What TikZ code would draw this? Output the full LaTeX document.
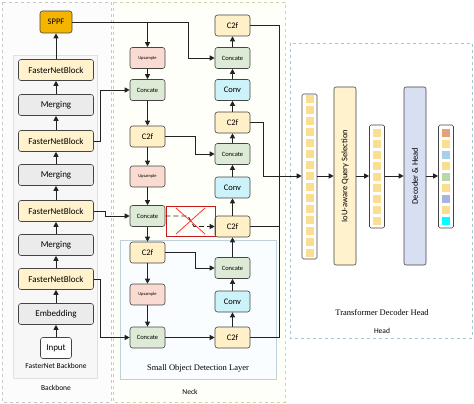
\documentclass[tikz,border=0pt]{standalone}
\usepackage{fontspec}
\setmainfont{Carlito}
\newfontfamily\serifx{Liberation Serif}
\usetikzlibrary{arrows.meta}
\definecolor{sppfc}{HTML}{F5B400}
\definecolor{fnbc}{HTML}{FFF2CC}
\definecolor{mrgc}{HTML}{EBEBEB}
\definecolor{upsc}{HTML}{FADBD2}
\definecolor{cctc}{HTML}{DDEBD6}
\definecolor{ctfc}{HTML}{FFF0C8}
\definecolor{cnvc}{HTML}{CCF2FA}
\definecolor{sqc}{HTML}{F9DF8F}
\definecolor{iouc}{HTML}{FFF2CC}
\definecolor{decc}{HTML}{D9DFF2}
\definecolor{linec}{HTML}{222222}
\definecolor{bordc}{HTML}{444444}
\tikzset{
  blk/.style={draw=bordc, rounded corners=2.5pt, line width=0.6pt, inner sep=0pt, minimum height=21pt},
  bb/.style={blk, minimum width=75pt, font=\fontsize{9}{10}\selectfont},
  nk/.style={blk, minimum width=35pt},
  ups/.style={nk, fill=upsc, font=\fontsize{4.5}{5}\selectfont},
  cct/.style={nk, fill=cctc, font=\fontsize{6.5}{7}\selectfont},
  ctf/.style={nk, fill=ctfc, font=\fontsize{8.5}{9}\selectfont},
  cnv/.style={nk, fill=cnvc, font=\fontsize{8.5}{9}\selectfont},
  col/.style={draw=bordc, rounded corners=1.5pt, line width=0.6pt, fill=white, minimum width=15pt, inner sep=0pt},
  arr/.style={draw=linec, line width=0.9pt, -{Triangle[length=5pt,width=5pt]}},
  ln/.style={draw=linec, line width=0.9pt},
}
\begin{document}
\begin{tikzpicture}[x=1pt,y=-1pt]
\useasboundingbox (0,0) rectangle (474,404);
% outer frames
\draw[draw=black!22, dashed, line width=0.8pt, fill=black!1] (2,2) rectangle (111,402);
\draw[draw=black!12, line width=0.6pt, fill=black!3] (13,55) rectangle (97,378);
\draw[draw=green!30!yellow!40!gray!50, dashed, line width=0.8pt, fill=yellow!2] (113,2) rectangle (285,402);
\draw[draw=cyan!30!gray!45, line width=0.6pt, fill=cyan!2] (120,240) rectangle (276,379);
\draw[draw=cyan!40!gray!60, dashed, line width=0.8pt] (290,43) rectangle (472,338);

\node at (56,366) {\fontsize{7.5}{8}\selectfont FasterNet Backbone};
\node at (56,388) {\fontsize{7.5}{8}\selectfont Backbone};
\node at (198,368) {\serifx\fontsize{8.5}{9}\selectfont Small Object Detection Layer};
\node at (190,392) {\fontsize{7.5}{8}\selectfont Neck};
\node at (382,313) {\serifx\fontsize{8.5}{9}\selectfont Transformer Decoder Head};
\node at (382,331) {\fontsize{7.5}{8}\selectfont Head};

% backbone
\node[blk, fill=sppfc, minimum width=32pt, minimum height=22pt, font=\fontsize{8.5}{9}\selectfont] (sppf) at (56,22) {SPPF};
\node[bb, fill=fnbc] (f4) at (56,70) {FasterNetBlock};
\node[bb, fill=mrgc] (m3) at (56,105) {Merging};
\node[bb, fill=fnbc] (f3) at (56,141) {FasterNetBlock};
\node[bb, fill=mrgc] (m2) at (56,175) {Merging};
\node[bb, fill=fnbc] (f2) at (56,211) {FasterNetBlock};
\node[bb, fill=mrgc] (m1) at (56,245) {Merging};
\node[bb, fill=fnbc] (f1) at (56,279) {FasterNetBlock};
\node[bb, fill=mrgc] (emb) at (56,314) {Embedding};
\node[blk, fill=white, minimum width=31pt, font=\fontsize{9}{10}\selectfont] (inp) at (56,348) {Input};
\draw[arr] (inp) -- (emb);
\draw[arr] (emb) -- (f1);
\draw[arr] (f1) -- (m1);
\draw[arr] (m1) -- (f2);
\draw[arr] (f2) -- (m2);
\draw[arr] (m2) -- (f3);
\draw[arr] (f3) -- (m3);
\draw[arr] (m3) -- (f4);
\draw[arr] (f4) -- (sppf);

% neck left column
\node[ups] (u1) at (147.5,58) {Upsample};
\node[cct] (cl1) at (147.5,90) {Concate};
\node[ctf] (tl1) at (147.5,136.5) {C2f};
\node[ups] (u2) at (147.5,176.5) {Upsample};
\node[cct] (cl2) at (147.5,216) {Concate};
\node[ctf] (tl2) at (147.5,252.5) {C2f};
\node[ups] (u3) at (147.5,294.5) {Upsample};
\node[cct] (cl3) at (147.5,337.5) {Concate};
% neck right column
\node[ctf] (tr1) at (232.5,25.5) {C2f};
\node[cct] (cr1) at (232.5,58) {Concate};
\node[cnv] (vr1) at (232.5,90) {Conv};
\node[ctf] (tr2) at (232.5,122.5) {C2f};
\node[cct] (cr2) at (232.5,154) {Concate};
\node[cnv] (vr2) at (232.5,187.5) {Conv};
\node[ctf] (tr3) at (232.5,226.5) {C2f};
\node[cct] (cr3) at (232.5,268) {Concate};
\node[cnv] (vr3) at (232.5,301.5) {Conv};
\node[ctf] (tr4) at (232.5,337.5) {C2f};

% backbone -> neck
\coordinate (s1) at (147.5,22);
\draw[ln] (sppf.east) -- (188,22) -- (188,58);
\draw[arr] (188,58) -- (cr1.west);
\draw[arr] (s1) -- (u1.north);
\draw[arr] (f3.east) -- (100,141) -- (100,90) -- (cl1.west);
\draw[arr] (f2.east) -- (105,211) -- (105,216) -- (cl2.west);
\draw[arr] (f1.east) -- (100,279) -- (100,337.5) -- (cl3.west);

% neck left flow
\draw[arr] (u1) -- (cl1);
\draw[arr] (cl1) -- (tl1);
\draw[arr] (tl1) -- (u2);
\draw[arr] (u2) -- (cl2);
\draw[arr] (cl2) -- (tl2);
\draw[arr] (tl2) -- (u3);
\draw[arr] (u3) -- (cl3);
\draw[arr] (cl3) -- (tr4);
\draw[arr] (tl1.east) -- (195,136.5) -- (195,154) -- (cr2.west);
\draw[arr] (tl2.east) -- (195,252.5) -- (195,268) -- (cr3.west);
% neck right flow
\draw[arr] (tr4) -- (vr3);
\draw[arr] (vr3) -- (cr3);
\draw[arr] (cr3) -- (tr3);
\draw[arr] (tr3) -- (vr2);
\draw[arr] (vr2) -- (cr2);
\draw[arr] (cr2) -- (tr2);
\draw[arr] (tr2) -- (vr1);
\draw[arr] (vr1) -- (cr1);
\draw[arr] (cr1) -- (tr1);
% removed path
\draw[arr, dashed, dash pattern=on 5pt off 3pt] (cl2.east) -- (188,216) -- (194,226.5) -- (tr3.west);
\draw[draw=red!75!black!90, line width=0.7pt] (166,206) rectangle (215,236);
\draw[draw=red!80, line width=0.8pt] (176,208) -- (205,234) (205,208) -- (176,234);

% head
\node[col, minimum height=165pt] (c1) at (309.5,176.5) {};
\node[blk, fill=iouc, minimum width=22pt, minimum height=178pt, rounded corners=2pt] (iou) at (345,176) {};
\node[rotate=90, font=\fontsize{8.5}{9}\selectfont] (ioutxt) at (iou.center) {IoU-aware Query Selection};
\node[col, minimum height=103pt] (c2) at (377,176.5) {};
\node[blk, fill=decc, minimum width=22pt, minimum height=178pt, rounded corners=2pt] (dec) at (415,176) {};
\node[rotate=90, font=\fontsize{8.5}{9}\selectfont] (dectxt) at (dec.center) {Decoder \& Head};
\node[col, minimum height=103pt] (c3) at (446,176.5) {};
\foreach \i in {0,...,14} {
  \fill[sqc] (305.5,{99+\i*11-4}) rectangle (313.5,{99+\i*11+4});
}
\foreach \i in {0,...,8} {
  \fill[sqc] (373,{132.5+\i*11-4}) rectangle (381,{132.5+\i*11+4});
}
\foreach \i/\c in {0/E8A07A,1/F9DF8F,2/A8D0E8,3/F9DF8F,4/B8D8A8,5/F9DF8F,6/A8B4E0,7/F9DF8F,8/00FFFF} {
  \definecolor{tmpc}{HTML}{\c}
  \fill[tmpc] (442,{132.5+\i*11-4}) rectangle (450,{132.5+\i*11+4});
}
\draw[arr] (c1.east |- 0,176) -- (iou.west |- 0,176);
\draw[arr] (iou.east |- 0,176) -- (c2.west |- 0,176);
\draw[arr] (c2.east |- 0,176) -- (dec.west |- 0,176);
\draw[arr] (dec.east |- 0,176) -- (c3.west |- 0,176);

% neck -> head
\draw[ln] (tr1.east) -- (279,25.5) -- (279,337.5) -- (tr4.east);
\draw[ln] (tr3.east) -- (279,226.5);
\draw[arr] (tr2.east) -- (263,122.5) -- (263,176) -- (c1.west |- 0,176);
\end{tikzpicture}
\end{document}
